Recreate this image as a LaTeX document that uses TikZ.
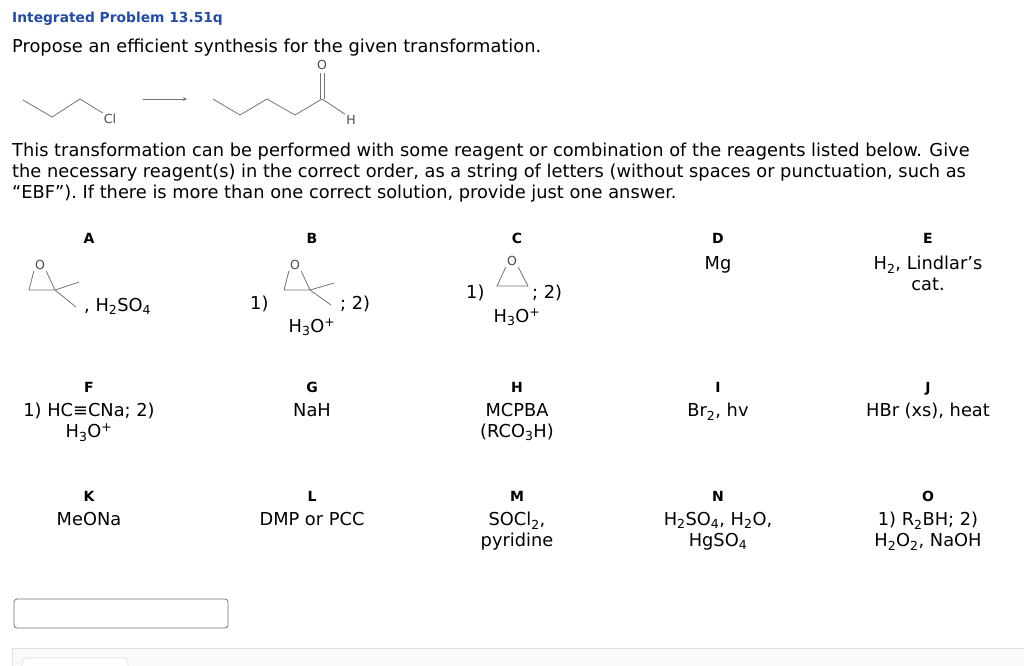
\documentclass[tikz,border=0pt]{standalone}
\usepackage{fontspec}
\setmainfont{DejaVu Sans}
\definecolor{ttl}{RGB}{35,75,170}
\begin{document}
\begin{tikzpicture}[x=1pt,y=-1pt,
  t/.style={font=\fontsize{17.8}{21}\selectfont,inner sep=0pt,anchor=base west},
  c/.style={font=\fontsize{17.8}{21}\selectfont,inner sep=0pt,align=center,anchor=north},
  l/.style={font=\fontsize{14}{17}\selectfont\bfseries,inner sep=0pt,anchor=base},
  bd/.style={line width=0.8pt,draw=black!55},
  atm/.style={font=\fontsize{12.5}{13}\selectfont,inner sep=1pt,text=black!70}]
\useasboundingbox (0,0) rectangle (1024,665);
\node[t,font=\fontsize{13.8}{17}\selectfont\bfseries,text=ttl] (ttl) at (12,22) {Integrated Problem 13.51q};
\node[t] (p) at (12,52) {Propose an efficient synthesis for the given transformation.};
% reactant
\node[atm] (cl) at (110,119) {Cl};
\draw[bd] (23,100) -- (52,117) -- (80,99) -- (cl.north west);
\coordinate (a1) at (143,99); \coordinate (a2) at (187,99);
\draw[bd,-stealth] (a1) -- (a2);
\node[atm] (ho) at (322,65) {O};
\node[atm] (hh) at (351,120) {H};
\draw[bd] (213,99) -- (240,115) -- (267,99) -- (295,115) -- (322,99) -- (hh.north west);
\draw[bd] (320,99) -- (320,73) (324,99) -- (324,73);
\node[t] (q1) at (12,156) {This transformation can be performed with some reagent or combination of the reagents listed below. Give};
\node[t] (q2) at (12,177) {the necessary reagent(s) in the correct order, as a string of letters (without spaces or punctuation, such as};
\node[t] (q3) at (12,198) {“EBF”). If there is more than one correct solution, provide just one answer.};
% row 1
\node[l] (A) at (89,243) {A}; \node[l] (B) at (312,243) {B}; \node[l] (C) at (517,243) {C};
\node[l] (D) at (718,243) {D}; \node[l] (E) at (928,243) {E};
% A epoxide
\node[atm] (oa) at (40,265) {O};
\draw[bd] (oa.south west) -- (29,290) -- (55,290) -- (oa.south east);
\draw[bd] (55,290) -- (79,282) (55,290) -- (76,307);
\node[t] (ar) at (84,311) {, H\textsubscript{2}SO\textsubscript{4}};
% B
\node[t] (b1) at (250,309) {1)};
\node[atm] (ob) at (295,265) {O};
\draw[bd] (ob.south west) -- (284,290) -- (310,290) -- (ob.south east);
\draw[bd] (310,290) -- (334,283) (310,290) -- (331,305);
\node[t] (b2) at (340,309) {; 2)};
\node[c] (b3) at (312,318) {H\textsubscript{3}O\textsuperscript{+}};
% C
\node[t] (c1) at (466,298) {1)};
\node[atm] (oc) at (512,261) {O};
\draw[bd] (oc.south west) -- (497,286) -- (528,286) -- (oc.south east);
\node[t] (c2) at (532,298) {; 2)};
\node[c] (c3) at (517,308) {H\textsubscript{3}O\textsuperscript{+}};
\node[c] (Dr) at (718,256) {Mg};
\node[c] (Er) at (928,256) {H\textsubscript{2}, Lindlar's\\cat.};
% row 2
\node[l] (F) at (89,392) {F}; \node[l] (G) at (312,392) {G}; \node[l] (H) at (517,392) {H};
\node[l] (I) at (718,392) {I}; \node[l] (J) at (928,392) {J};
\node[c] (Fr) at (89,403) {1) HC≡CNa; 2)\\H\textsubscript{3}O\textsuperscript{+}};
\node[c] (Gr) at (312,403) {NaH};
\node[c] (Hr) at (517,403) {MCPBA\\(RCO\textsubscript{3}H)};
\node[c] (Ir) at (718,403) {Br\textsubscript{2}, hv};
\node[c] (Jr) at (928,403) {HBr (xs), heat};
% row 3
\node[l] (K) at (89,501) {K}; \node[l] (L) at (312,501) {L}; \node[l] (M) at (517,501) {M};
\node[l] (N) at (718,501) {N}; \node[l] (O) at (928,501) {O};
\node[c] (Kr) at (89,512) {MeONa};
\node[c] (Lr) at (312,512) {DMP or PCC};
\node[c] (Mr) at (517,512) {SOCl\textsubscript{2},\\pyridine};
\node[c] (Nr) at (718,512) {H\textsubscript{2}SO\textsubscript{4}, H\textsubscript{2}O,\\HgSO\textsubscript{4}};
\node[c] (Or) at (928,512) {1) R\textsubscript{2}BH; 2)\\H\textsubscript{2}O\textsubscript{2}, NaOH};
% answer box & panel
\draw[draw=black!55,line width=0.8pt,rounded corners=3pt] (14,599) rectangle (228,628);
\draw[draw=black!12,fill=black!2,line width=0.8pt] (12,648) rectangle (1030,670);
\draw[draw=black!12,fill=white,line width=0.8pt,rounded corners=4pt] (22,658) rectangle (128,670);
\end{tikzpicture}
\end{document}
